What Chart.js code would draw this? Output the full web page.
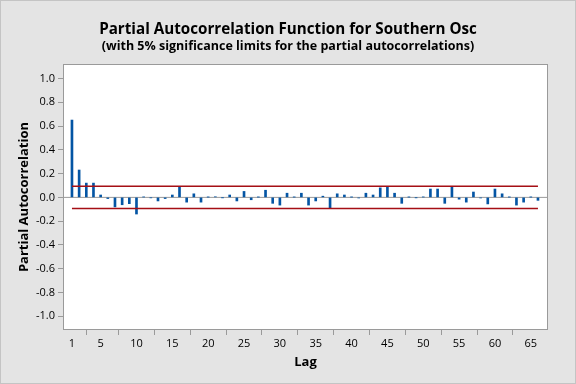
<!DOCTYPE html>
<html><head><meta charset="utf-8">
<script src="https://cdn.jsdelivr.net/npm/chart.js@4/dist/chart.umd.min.js"></script>
<style>html,body{margin:0;padding:0;background:#e4e4e4}canvas{display:block}</style>
</head><body>
<canvas id="c" width="576" height="384"></canvas>
<script>
const lags = [1,2,3,4,5,6,7,8,9,10,11,12,13,14,15,16,17,18,19,20,21,22,23,24,25,26,27,28,29,30,31,32,33,34,35,36,37,38,39,40,41,42,43,44,45,46,47,48,49,50,51,52,53,54,55,56,57,58,59,60,61,62,63,64,65,66];
const pacf = [0.65,0.23,0.12,0.12,0.02,-0.01,-0.08,-0.062,-0.053,-0.14,
  0.003,-0.003,-0.03,-0.01,0.02,0.09,-0.04,0.03,-0.04,0.002,
  0.005,-0.002,0.02,-0.03,0.05,-0.02,0.002,0.06,-0.05,-0.065,
  0.035,0.002,0.035,-0.065,-0.03,0.01,-0.09,0.03,0.02,0.002,
  -0.005,0.035,0.02,0.08,0.09,0.035,-0.05,0.002,-0.002,0.003,
  0.07,0.07,-0.05,0.09,-0.015,-0.04,0.045,-0.005,-0.055,0.07,
  0.03,0.002,-0.065,-0.04,0.002,-0.025];
const upperLimit = 0.093;
const lowerLimit = -0.093;
const yTickValues = [-1.0,-0.8,-0.6,-0.4,-0.2,0.0,0.2,0.4,0.6,0.8,1.0];
const xTickValues = [1,5,10,15,20,25,30,35,40,45,50,55,60,65];

const FONT = "'Open Sans', 'Noto Sans', 'DejaVu Sans', sans-serif";
const X_MIN = -0.25, X_MAX = 67.4;
const barData = lags.map((l,i)=>({x:l,y:pacf[i]}));
const firstLag = lags[0], lastLag = lags[lags.length-1];

const frame = {
  id:'frame',
  beforeDraw(chart){
    const {ctx, chartArea:a} = chart;
    ctx.save();
    ctx.fillStyle = '#e4e4e4';
    ctx.fillRect(0,0,chart.width,chart.height);
    ctx.strokeStyle = '#c4c4c4';
    ctx.lineWidth = 1;
    ctx.strokeRect(0.5,0.5,chart.width-1,chart.height-1);
    ctx.fillStyle = '#ffffff';
    ctx.fillRect(a.left,a.top,a.right-a.left,a.bottom-a.top);
    ctx.restore();
  },
  afterDraw(chart){
    const {ctx, chartArea:a} = chart;
    ctx.save();
    ctx.strokeStyle = '#9a9a9a';
    ctx.lineWidth = 1;
    ctx.strokeRect(Math.round(a.left)+0.5,Math.round(a.top)+0.5,Math.round(a.right-a.left)-1,Math.round(a.bottom-a.top)-1);
    ctx.restore();
  }
};

new Chart(document.getElementById('c'), {
  type:'bar',
  data:{
    datasets:[
      {type:'bar', data:barData, backgroundColor:'#0455a4', barThickness:2, order:2},
      {type:'line', data:[{x:X_MIN,y:0},{x:X_MAX,y:0}], borderColor:'#999999', borderWidth:1, pointRadius:0, order:3},
      {type:'line', data:[{x:firstLag,y:upperLimit},{x:lastLag,y:upperLimit}], borderColor:'#a50f15', borderWidth:1.5, pointRadius:0, order:1},
      {type:'line', data:[{x:firstLag,y:lowerLimit},{x:lastLag,y:lowerLimit}], borderColor:'#a50f15', borderWidth:1.5, pointRadius:0, order:1}
    ]
  },
  options:{
    responsive:false, animation:false, devicePixelRatio:1,
    layout:{padding:{left:0,right:0,top:0,bottom:14}},
    plugins:{
      legend:{display:false}, tooltip:{enabled:false},
      title:{display:true, text:'Partial Autocorrelation Function for Southern Osc', color:'#000', font:{family:FONT,size:15.2,weight:'bold'}, padding:{top:21,bottom:0}},
      subtitle:{display:true, text:'(with 5% significance limits for the partial autocorrelations)', color:'#000', font:{family:FONT,size:12.5,weight:'bold'}, padding:{top:0,bottom:9.8}}
    },
    scales:{
      x:{type:'linear', min:X_MIN, max:X_MAX, offset:false,
        afterBuildTicks:s=>{s.ticks = xTickValues.map(v=>({value:v}));},
        afterFit:s=>{s.height = 54-14;},
        grid:{drawOnChartArea:false, drawTicks:true, tickLength:5, color:'#9a9a9a'},
        border:{display:false},
        ticks:{color:'#000', font:{family:FONT,size:11}, padding:2, maxRotation:0, autoSkip:false},
        title:{display:true, text:'Lag', color:'#000', font:{family:FONT,size:13,weight:'bold'}, padding:{top:0,bottom:0}}
      },
      y:{type:'linear', min:-1.115, max:1.121,
        afterBuildTicks:s=>{s.ticks = yTickValues.map(v=>({value:v}));},
        afterFit:s=>{s.width = 63;},
        grid:{drawOnChartArea:false, drawTicks:true, tickLength:5, color:'#9a9a9a'},
        border:{display:false},
        ticks:{color:'#000', font:{family:FONT,size:11}, padding:3, callback:v=>v.toFixed(1)},
        title:{display:true, text:'Partial Autocorrelation', color:'#000', font:{family:FONT,size:13,weight:'bold'}, padding:{top:16,bottom:0}}
      },
      yRight:{type:'linear', position:'right', min:0, max:1,
        afterFit:s=>{s.width = 28;},
        grid:{display:false}, border:{display:false},
        ticks:{display:false}
      }
    }
  },
  plugins:[frame]
});
</script>
</body></html>
